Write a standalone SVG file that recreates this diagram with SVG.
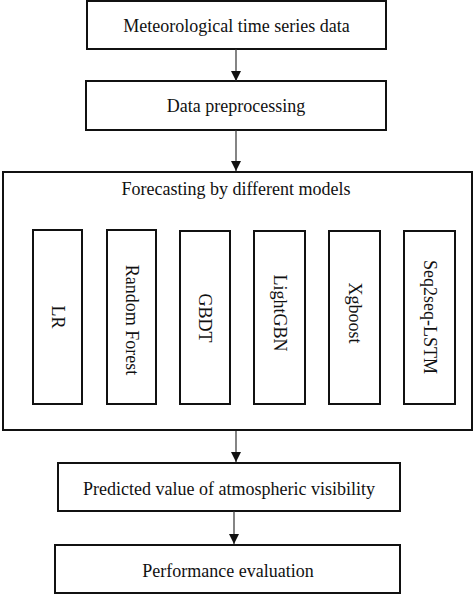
<svg xmlns="http://www.w3.org/2000/svg" width="474" height="594" viewBox="0 0 474 594">
<style>
.box{fill:#fff;stroke:#111;stroke-width:2}
.t{font-family:"Liberation Serif","Times New Roman",serif;font-size:18px;fill:#111;text-anchor:middle}
.c{stroke:#333;stroke-width:1.2;fill:none}
</style>
<defs>
<marker id="ah" viewBox="0 0 10 10" refX="10" refY="5" markerWidth="10" markerHeight="10" markerUnits="userSpaceOnUse" orient="auto">
<path d="M0,0 L10,5 L0,10 z" fill="#111"/>
</marker>
</defs>
<rect width="474" height="594" fill="#fff"/>
<g id="n1"><rect class="box" x="87" y="1" width="299" height="48"/><text class="t" x="236.5" y="32">Meteorological time series data</text></g>
<g id="n2"><rect class="box" x="86" y="81" width="300" height="49"/><text class="t" x="236" y="112">Data preprocessing</text></g>
<g id="n3"><rect class="box" x="3" y="172" width="469" height="258"/><text class="t" x="236" y="195">Forecasting by different models</text></g>
<g id="m1"><rect class="box" x="33" y="230" width="49" height="174"/><text class="t" transform="translate(57.5,317) rotate(90)" y="6">LR</text></g>
<g id="m2"><rect class="box" x="107" y="230" width="49" height="174"/><text class="t" transform="translate(131.5,320) rotate(90)" y="6">Random Forest</text></g>
<g id="m3"><rect class="box" x="180" y="231" width="50" height="173"/><text class="t" transform="translate(205,318) rotate(90)" y="6">GBDT</text></g>
<g id="m4"><rect class="box" x="254" y="231" width="51" height="173"/><text class="t" transform="translate(279.5,313) rotate(90)" y="6">LightGBN</text></g>
<g id="m5"><rect class="box" x="329" y="231" width="51" height="173"/><text class="t" transform="translate(354.5,313) rotate(90)" y="6">Xgboost</text></g>
<g id="m6"><rect class="box" x="404" y="231" width="51" height="173"/><text class="t" transform="translate(429.5,317) rotate(90)" y="6">Seq2seq-LSTM</text></g>
<g id="n4"><rect class="box" x="58" y="463" width="342" height="48"/><text class="t" x="229" y="495">Predicted value of atmospheric visibility</text></g>
<g id="n5"><rect class="box" x="55" y="545" width="345" height="48"/><text class="t" x="228" y="577">Performance evaluation</text></g>
<g id="connectors">
<line class="c" x1="236" y1="49" x2="236" y2="81" marker-end="url(#ah)"/>
<line class="c" x1="236" y1="130" x2="236" y2="171" marker-end="url(#ah)"/>
<line class="c" x1="236" y1="431" x2="236" y2="462" marker-end="url(#ah)"/>
<line class="c" x1="234" y1="511" x2="234" y2="544" marker-end="url(#ah)"/>
</g>
</svg>
